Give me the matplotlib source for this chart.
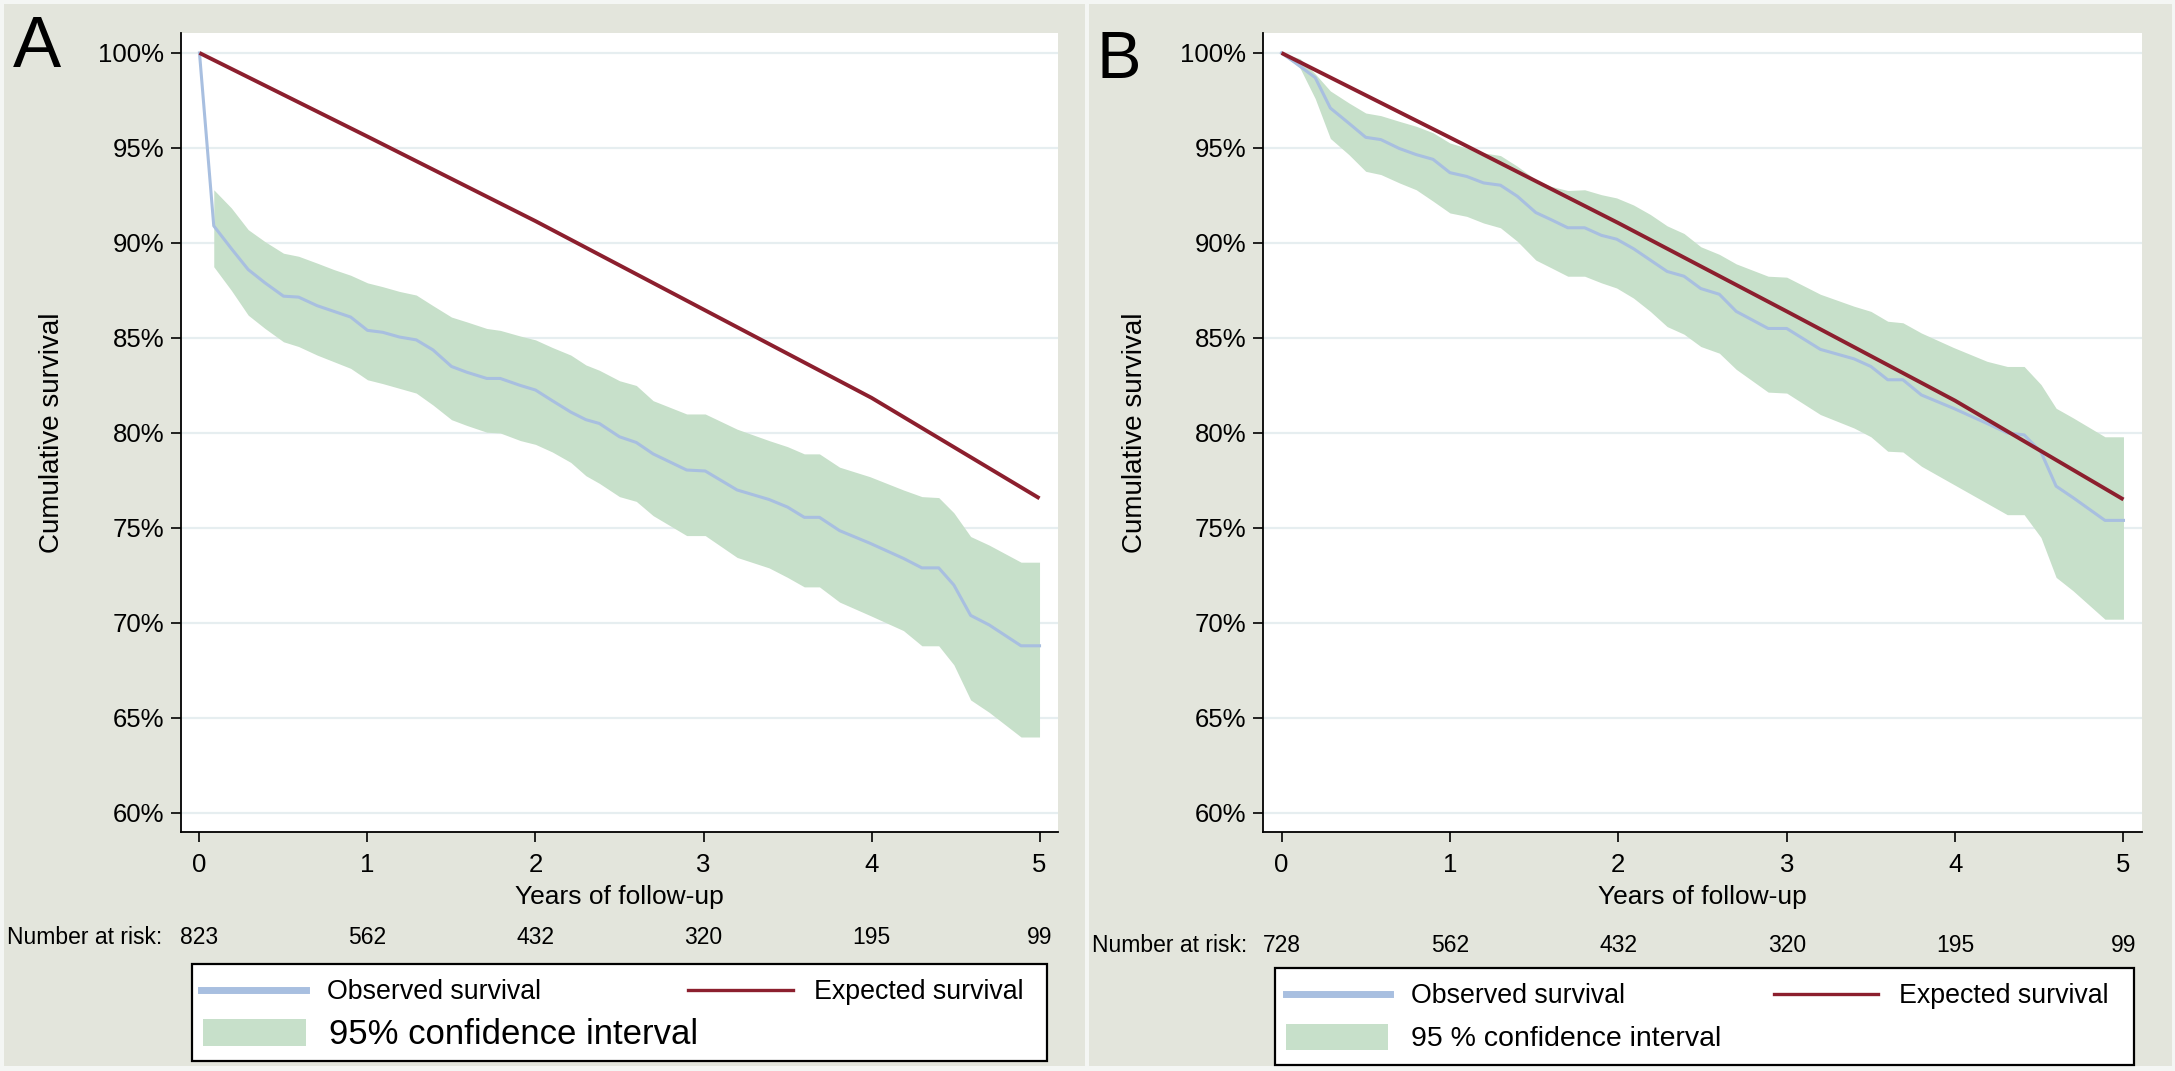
import numpy as np
import matplotlib
matplotlib.use("Agg")
import matplotlib.pyplot as plt
from matplotlib.lines import Line2D
from matplotlib.patches import Patch, Rectangle
import matplotlib.transforms as mtransforms

plt.rcParams['font.family'] = ['Liberation Sans', 'DejaVu Sans']

# ---------------- data ----------------
years_a = [0.00, 0.085, 0.19, 0.29, 0.39, 0.50, 0.59, 0.70, 0.80, 0.90, 1.00, 1.09, 1.19, 1.29,
           1.39, 1.50, 1.59, 1.71, 1.79, 1.91, 2.00, 2.10, 2.21, 2.30, 2.38, 2.50, 2.60, 2.70,
           2.90, 3.01, 3.20, 3.39, 3.50, 3.60, 3.69, 3.81, 3.99, 4.19, 4.30, 4.40, 4.49, 4.59,
           4.70, 4.89, 5.00]
obs_a = [100.0, 90.9, 89.7, 88.6, 87.9, 87.2, 87.15, 86.7, 86.4, 86.1, 85.4, 85.3, 85.05, 84.9,
         84.37, 83.5, 83.2, 82.87, 82.87, 82.5, 82.26, 81.7, 81.1, 80.7, 80.5, 79.8, 79.5, 78.9,
         78.05, 78.0, 77.0, 76.5, 76.1, 75.56, 75.56, 74.86, 74.2, 73.4, 72.9, 72.9, 72.0, 70.4,
         69.9, 68.8, 68.8]
ci_up_a = [np.nan, 92.8, 91.84, 90.7, 90.07, 89.46, 89.3, 88.94, 88.6, 88.3, 87.9, 87.7, 87.45, 87.26,
           86.7, 86.1, 85.85, 85.5, 85.4, 85.1, 84.9, 84.5, 84.1, 83.58, 83.3, 82.75, 82.5, 81.7,
           81.0, 81.0, 80.2, 79.6, 79.28, 78.9, 78.9, 78.2, 77.7, 77.0, 76.65, 76.6, 75.8, 74.55,
           74.1, 73.2, 73.2]
ci_lo_a = [np.nan, 88.75, 87.5, 86.2, 85.5, 84.8, 84.55, 84.1, 83.75, 83.4, 82.8, 82.6, 82.35, 82.1,
           81.47, 80.7, 80.4, 80.04, 80.0, 79.6, 79.4, 79.0, 78.45, 77.75, 77.35, 76.65, 76.4, 75.65,
           74.6, 74.6, 73.45, 72.9, 72.4, 71.9, 71.9, 71.1, 70.4, 69.6, 68.8, 68.8, 67.8, 65.95,
           65.3, 64.0, 64.0]

years_b = [0.00, 0.11, 0.20, 0.29, 0.40, 0.50, 0.59, 0.70, 0.80, 0.90, 1.00, 1.10, 1.20, 1.30,
           1.40, 1.51, 1.60, 1.70, 1.80, 1.90, 1.99, 2.09, 2.19, 2.29, 2.39, 2.49, 2.60, 2.70,
           2.89, 3.00, 3.20, 3.40, 3.50, 3.60, 3.69, 3.80, 3.99, 4.19, 4.31, 4.41, 4.51, 4.60,
           4.70, 4.89, 5.00]
obs_b = [100.0, 99.3, 98.7, 97.1, 96.3, 95.56, 95.44, 94.97, 94.65, 94.4, 93.7, 93.5, 93.16, 93.04,
         92.46, 91.6, 91.23, 90.8, 90.8, 90.4, 90.2, 89.7, 89.1, 88.5, 88.25, 87.6, 87.3, 86.4,
         85.5, 85.5, 84.4, 83.9, 83.5, 82.8, 82.8, 82.0, 81.3, 80.5, 80.0, 79.9, 79.0, 77.2,
         76.6, 75.4, 75.4]
ci_up_b = [100.0, 99.7, 98.9, 98.0, 97.37, 96.84, 96.7, 96.4, 96.14, 95.8, 95.26, 95.0, 94.74, 94.6,
           94.04, 93.33, 92.98, 92.76, 92.8, 92.54, 92.37, 92.0, 91.5, 90.9, 90.5, 89.8, 89.4, 88.9,
           88.25, 88.2, 87.3, 86.67, 86.4, 85.88, 85.8, 85.26, 84.5, 83.77, 83.5, 83.5, 82.55, 81.3,
           80.8, 79.8, 79.8]
ci_lo_b = [100.0, 99.2, 97.6, 95.5, 94.65, 93.77, 93.6, 93.16, 92.8, 92.2, 91.58, 91.4, 91.05, 90.8,
           90.09, 89.1, 88.7, 88.25, 88.25, 87.9, 87.63, 87.1, 86.4, 85.6, 85.2, 84.55, 84.2, 83.35,
           82.15, 82.1, 80.97, 80.26, 79.8, 79.04, 79.0, 78.25, 77.3, 76.3, 75.7, 75.7, 74.5, 72.4,
           71.7, 70.2, 70.2]

exp_years = [0, 1, 2, 3, 4, 5]
exp_a = [100.0, 95.6, 91.15, 86.5, 81.85, 76.56]
exp_b = [100.0, 95.55, 91.05, 86.4, 81.7, 76.5]

risk_years = [0, 1, 2, 3, 4, 5]
risk_a = [823, 562, 432, 320, 195, 99]
risk_b = [728, 562, 432, 320, 195, 99]

y_ticks = [60, 65, 70, 75, 80, 85, 90, 95, 100]
y_ticklabels = ["60%", "65%", "70%", "75%", "80%", "85%", "90%", "95%", "100%"]
x_ticks = [0, 1, 2, 3, 4, 5]

# ---------------- style ----------------
BG = '#e3e5dc'
OBS_C = '#a8bfe0'
EXP_C = '#8c1f2e'
CI_C = '#c7e0ca'
GRID_C = '#e6eef0'

W, H = 2175, 1071
def fx(x):
    return x / W
def fy(y):
    return 1 - y / H

fig = plt.figure(figsize=(W / 100, H / 100), dpi=100)
fig.patch.set_facecolor('#f4f6f4')

# panel backgrounds
for (x0, x1) in [(4, 1085), (1089, 2172)]:
    fig.add_artist(Rectangle((fx(x0), fy(1066)), fx(x1) - fx(x0), fy(4) - fy(1066),
                             transform=fig.transFigure, facecolor=BG, edgecolor='none', zorder=-5))

panels = [
    dict(left=181, right=1058, years=years_a, obs=obs_a, up=ci_up_a, lo=ci_lo_a, exp=exp_a,
         risk=risk_a, risk_y=938, risk_lab_x=7, letter='A', letter_pos=(13, 67), letter_fs=52,
         ylab_x=52, leg_box=(192, 964, 1047, 1061),
         leg_obs=(201, 992), leg_exp=(688, 992), leg_ci=(203, 1035), ci_fs=25, ci_label='95% confidence interval',
         hl=105, pad=21),
    dict(left=1263, right=2142, years=years_b, obs=obs_b, up=ci_up_b, lo=ci_lo_b, exp=exp_b,
         risk=risk_b, risk_y=945, risk_lab_x=1092, letter='B', letter_pos=(1097, 78), letter_fs=48,
         ylab_x=1135, leg_box=(1275, 968, 2134, 1065),
         leg_obs=(1286, 996), leg_exp=(1774, 996), leg_ci=(1286, 1038), ci_fs=20.5, ci_label='95 % confidence interval',
         hl=104, pad=21),
]

top, bottom = 33, 832
for p in panels:
    ax = fig.add_axes([fx(p['left']), fy(bottom), fx(p['right']) - fx(p['left']), fy(top) - fy(bottom)])
    ax.set_facecolor('white')
    yrs = np.array(p['years'])
    up = np.array(p['up'], dtype=float)
    lo = np.array(p['lo'], dtype=float)
    ax.fill_between(yrs, lo, up, color=CI_C, linewidth=0, zorder=2)
    ax.plot(yrs, p['obs'], color=OBS_C, lw=2.2, zorder=3, solid_joinstyle='round')
    ax.plot(exp_years, p['exp'], color=EXP_C, lw=2.8, zorder=4, solid_capstyle='butt')

    ax.set_xlim(-0.11, 5.11)
    ax.set_ylim(59.0, 101.05)
    ax.set_yticks(y_ticks)
    ax.set_yticklabels(y_ticklabels)
    ax.set_xticks(x_ticks)
    ax.tick_params(axis='both', direction='out', length=7.2, width=1.2, colors='black', labelsize=18.5)
    ax.tick_params(axis='y', pad=5)
    ax.tick_params(axis='x', pad=8)
    ax.yaxis.grid(True, color=GRID_C, lw=1.6)
    ax.xaxis.grid(False)
    ax.set_axisbelow(True)
    for s in ['top', 'right']:
        ax.spines[s].set_visible(False)
    for s in ['left', 'bottom']:
        ax.spines[s].set_linewidth(1.3)
        ax.spines[s].set_color('black')

    width_px = p['right'] - p['left']
    height_px = bottom - top
    ax.set_xlabel('Years of follow-up', fontsize=19)
    ax.xaxis.set_label_coords(0.5, (bottom - 897) / height_px)
    ax.xaxis.label.set_va('center')
    ax.set_ylabel('Cumulative survival', fontsize=20)
    ax.yaxis.set_label_coords((p['ylab_x'] - p['left']) / width_px, 0.5)
    ax.yaxis.label.set_va('center')

    # number at risk
    trans = mtransforms.blended_transform_factory(ax.transData, ax.transAxes)
    ry = (bottom - p['risk_y']) / height_px
    for t, n in zip(risk_years, p['risk']):
        ax.text(t, ry, str(n), transform=trans, ha='center', va='center', fontsize=16.5, clip_on=False)
    fig.text(fx(p['risk_lab_x']), fy(p['risk_y']), 'Number at risk:', ha='left', va='center', fontsize=16.5)

    # panel letter
    fig.text(fx(p['letter_pos'][0]), fy(p['letter_pos'][1]), p['letter'], ha='left', va='baseline',
             fontsize=p['letter_fs'])

    # legend frame
    x0, y0, x1, y1 = p['leg_box']
    fig.add_artist(Rectangle((fx(x0), fy(y1)), fx(x1) - fx(x0), fy(y0) - fy(y1),
                             transform=fig.transFigure, facecolor='white', edgecolor='black',
                             linewidth=1.6, zorder=1))

    def add_leg(handle, label, pos, fs, hl_px, pad_px, hh_px=None):
        fs_px = fs * 100 / 72
        kw = dict(loc='center left', bbox_to_anchor=(fx(pos[0]), fy(pos[1])),
                  bbox_transform=fig.transFigure, frameon=False, borderpad=0, borderaxespad=0,
                  fontsize=fs, handlelength=hl_px / fs_px, handletextpad=pad_px / fs_px)
        if hh_px is not None:
            kw['handleheight'] = hh_px / fs_px
        leg = fig.legend([handle], [label], **kw)
        leg.set_zorder(6)
        return leg

    add_leg(Line2D([], [], color=OBS_C, lw=5), 'Observed survival', p['leg_obs'], 19.3, p['hl'], p['pad'])
    add_leg(Line2D([], [], color=EXP_C, lw=2.4), 'Expected survival', p['leg_exp'], 19.3, p['hl'], p['pad'])
    add_leg(Patch(facecolor=CI_C, edgecolor='none'), p['ci_label'], p['leg_ci'], p['ci_fs'],
            p['hl'] - 2, p['pad'] + 2, hh_px=29)

fig.savefig('out.png', dpi=100, facecolor=fig.get_facecolor())
